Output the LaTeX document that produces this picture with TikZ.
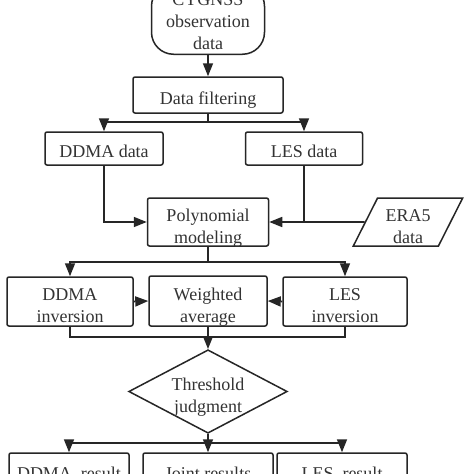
\documentclass[tikz,border=0pt]{standalone}
\usepackage{fontspec}
\setmainfont{Liberation Serif}
\usetikzlibrary{arrows.meta,shapes.geometric}
\begin{document}
\begin{tikzpicture}[x=1pt,y=-1pt,
  every node/.style={font=\fontsize{18}{22}\selectfont, text=black!80},
  box/.style={draw=black!85, line width=1.5pt, rounded corners=2pt, align=center, inner sep=2pt},
  one/.style={text height=18pt, text depth=0pt},
  two/.style={text height=42pt, text depth=0pt},
  three/.style={text height=60pt, text depth=0pt},
  arr/.style={-{Triangle[length=13pt,width=10pt]}},
  ln/.style={draw=black!85, line width=1.6pt}]
\useasboundingbox (0,0) rectangle (474,474);
\clip (0,0) rectangle (474,474);
\fill[white] (0,0) rectangle (474,474);

\node[box, three, rounded corners=22pt, minimum width=113pt, minimum height=70pt, anchor=south] (obs) at (208,55) {CYGNSS\\observation\\data};
\node[box, one, minimum width=150pt, minimum height=36pt] (filt) at (208,95) {Data filtering};
\node[box, one, minimum width=118pt, minimum height=33pt] (ddmad) at (104,148.5) {DDMA data};
\node[box, one, minimum width=117pt, minimum height=33pt] (lesd) at (304,148.5) {LES data};
\node[box, two, minimum width=121pt, minimum height=48pt] (poly) at (208,222) {Polynomial\\modeling};
\node[box, two, shape=trapezium, trapezium left angle=67, trapezium right angle=113, trapezium stretches=true, minimum width=110pt, minimum height=48pt, rounded corners=0pt] (era) at (408,222) {ERA5\\data};
\node[box, two, minimum width=126pt, minimum height=49pt] (ddmai) at (70,301.5) {DDMA\\inversion};
\node[box, two, minimum width=118pt, minimum height=50pt] (wavg) at (208,301) {Weighted\\average};
\node[box, two, minimum width=124pt, minimum height=49pt] (lesi) at (345,301.5) {LES\\inversion};
\node[box, two, shape=diamond, aspect=1.9, minimum width=158pt, minimum height=83pt, inner sep=1pt, rounded corners=0pt] (thr) at (208,391.5) {Threshold\\judgment};
\node[box, one, minimum width=120pt, minimum height=35pt] (ddmar) at (69,470.5) {DDMA~~result};
\node[box, one, minimum width=130pt, minimum height=35pt] (joint) at (208,470.5) {Joint results};
\node[box, one, minimum width=130pt, minimum height=35pt] (lesr) at (342,470.5) {LES~~result};

\coordinate (j1) at (208,122);
\coordinate (j2) at (208,262);
\coordinate (j3) at (208,337);
\coordinate (j4) at (208,443);

\draw[ln,arr] (obs.south) -- (filt.north);
\draw[ln] (filt.south) -- (j1);
\draw[ln,arr] (j1) -| (ddmad.north);
\draw[ln,arr] (j1) -| (lesd.north);
\draw[ln,arr] (ddmad.south) |- (poly.west);
\draw[ln] (lesd.south) -- (lesd.south |- poly.east);
\draw[ln,arr] (era.west) -- (poly.east);
\draw[ln] (poly.south) -- (j2);
\draw[ln,arr] (j2) -| (ddmai.north);
\draw[ln,arr] (j2) -| (lesi.north);
\draw[ln,arr] (ddmai.east) -- (wavg.west);
\draw[ln,arr] (lesi.west) -- (wavg.east);
\draw[ln] (ddmai.south) |- (j3) -| (lesi.south);
\draw[ln,arr] (wavg.south) -- (thr.north);
\draw[ln,arr] (thr.south) -- (joint.north);
\draw[ln,arr] (j4) -| (ddmar.north);
\draw[ln,arr] (j4) -| (lesr.north);
\end{tikzpicture}
\end{document}
